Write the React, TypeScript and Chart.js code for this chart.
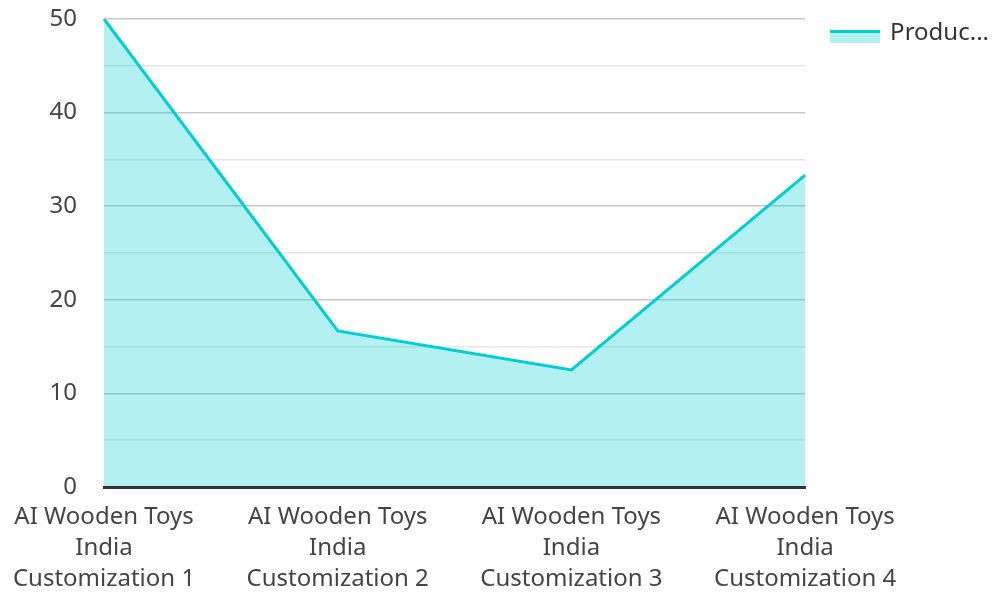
import React, { useEffect, useRef } from "react";
import { Chart, registerables } from "chart.js";

Chart.register(...registerables);

const categories: string[][] = [
  ["AI Wooden Toys", "India", "Customization 1"],
  ["AI Wooden Toys", "India", "Customization 2"],
  ["AI Wooden Toys", "India", "Customization 3"],
  ["AI Wooden Toys", "India", "Customization 4"],
];
const seriesLabel = "Produc...";
const seriesValues: number[] = [50, 16.67, 12.5, 33.33];

const LINE = "#00CED1";
const FILL = "rgba(0,206,209,0.3)";
const FONT = "'Noto Sans', 'Open Sans', sans-serif";

// legend swatch: line on top, area fill below (drawn into an image used as point style)
function legendSwatch(): HTMLCanvasElement {
  const c = document.createElement("canvas");
  c.width = 73;
  c.height = 30;
  const ctx = c.getContext("2d")!;
  ctx.fillStyle = FILL;
  ctx.fillRect(23, 12, 50, 13);
  ctx.fillStyle = LINE;
  ctx.fillRect(23, 12, 50, 3);
  return c;
}

export default function App() {
  const ref = useRef<HTMLCanvasElement | null>(null);
  useEffect(() => {
    if (!ref.current) return;
    const swatch = legendSwatch();
    const chart = new Chart(ref.current, {
      type: "line",
      data: {
        labels: categories,
        datasets: [
          {
            label: seriesLabel,
            data: seriesValues,
            borderColor: LINE,
            backgroundColor: FILL,
            borderWidth: 3,
            fill: "origin",
            pointRadius: 0,
            tension: 0,
            pointStyle: swatch as any,
          },
        ],
      },
      options: {
        animation: false,
        responsive: true,
        maintainAspectRatio: false,
        layout: { padding: { top: 0, right: -5, bottom: 0, left: 0 } },
        plugins: {
          legend: {
            position: "right",
            align: "start",
            title: {
              display: true,
              text: "",
              padding: { top: 16, bottom: 0 },
              font: { size: 1, lineHeight: 1 },
            },
            labels: {
              usePointStyle: true,
              pointStyleWidth: 69,
              padding: 4,
              color: "#333",
              font: { family: FONT, size: 24 },
            },
          },
          tooltip: { enabled: false },
        },
        scales: {
          x: {
            offset: false,
            grid: { display: false },
            border: { display: true, color: "#333", width: 3, z: 1 },
            ticks: {
              color: "#444",
              font: { family: FONT, size: 24, lineHeight: 1.29 },
              maxRotation: 0,
              autoSkip: false,
              padding: 7,
            },
            afterFit: (scale: any) => {
              scale.height = 105;
              scale.paddingLeft = 104;
              scale.paddingRight = 0;
            },
          },
          y: {
            min: 0,
            max: 50,
            border: { display: false },
            grid: {
              drawTicks: false,
              color: (ctx: any) =>
                ctx.tick && ctx.tick.value % 10 === 0 ? "#c8c8c8" : "#e6e6e6",
              lineWidth: 1.5,
            },
            ticks: {
              stepSize: 5,
              color: "#444",
              padding: 27,
              font: { family: FONT, size: 24 },
              callback: (v: any) => (Number(v) % 10 === 0 ? String(v) : ""),
            },
            afterFit: (scale: any) => {
              scale.paddingTop = 19;
              scale.paddingBottom = 0;
            },
          },
        },
      },
    });
    return () => chart.destroy();
  }, []);
  return (
    <div style={{ position: "fixed", left: 0, top: 0, width: 994, height: 592 }}>
      <canvas ref={ref} />
    </div>
  );
}
